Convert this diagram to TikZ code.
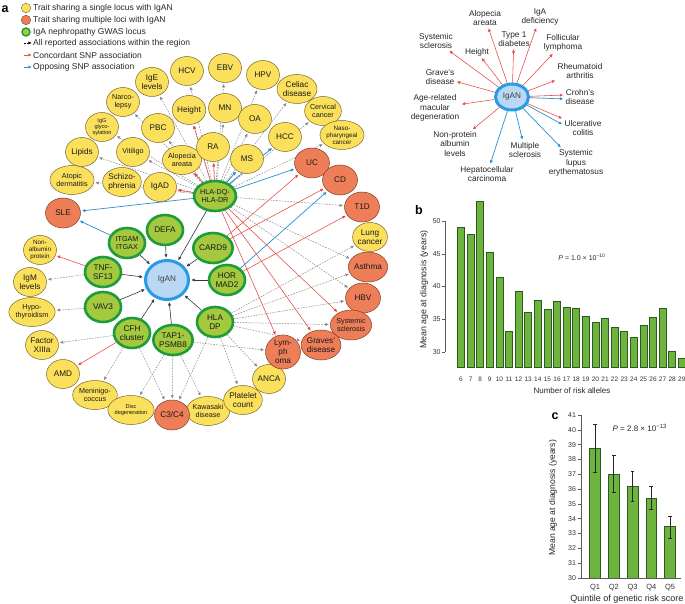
\documentclass[tikz,border=0pt]{standalone}
\usepackage{fontspec}
\setmainfont{Liberation Sans}
\usetikzlibrary{shapes.geometric,arrows.meta}
\pgfdeclarelayer{links}
\pgfsetlayers{links,main}

\definecolor{singlefill}{RGB}{251,224,92}
\definecolor{singleline}{RGB}{120,104,50}
\definecolor{multifill}{RGB}{238,126,88}
\definecolor{multiline}{RGB}{125,62,40}
\definecolor{locusfill}{RGB}{164,200,62}
\definecolor{locusline}{RGB}{30,155,58}
\definecolor{iganfill}{RGB}{186,216,245}
\definecolor{iganline}{RGB}{40,155,230}
\definecolor{concord}{RGB}{232,70,62}
\definecolor{oppose}{RGB}{42,143,209}
\definecolor{reported}{RGB}{135,135,140}
\definecolor{barfill}{RGB}{108,180,62}
\definecolor{barline}{RGB}{45,90,30}
\definecolor{axisgray}{RGB}{90,90,90}

\tikzset{
	trait/.style={ellipse, draw=singleline, line width=0.5pt, minimum width=33pt, minimum height=29pt, inner sep=0pt, align=center, text=black!90, font=\fontsize{8.2}{9.2}\selectfont},
	single/.style={trait, fill=singlefill},
	multiple/.style={trait, fill=multifill, draw=multiline, minimum width=35pt, minimum height=30pt},
	locus/.style={trait, fill=locusfill, draw=locusline, line width=2.6pt, minimum width=36pt, minimum height=30pt},
	hub/.style={ellipse, fill=iganfill, draw=iganline, line width=3pt, minimum width=43pt, minimum height=39pt, inner sep=0pt, text=black!75, font=\fontsize{8.2}{9}\selectfont},
	sm/.style={font=\fontsize{7.2}{8}\selectfont},
	xs/.style={font=\fontsize{6.3}{7}\selectfont},
	xxs/.style={font=\fontsize{5.6}{6.3}\selectfont},
	tip/.style={-{Triangle[length=3.2pt,width=2.8pt]}, shorten >=1.5pt},
	toigan/.style={tip, draw=black!80, line width=0.6pt},
	allassoc/.style={tip, draw=reported, line width=0.5pt, dash pattern=on 1.6pt off 1.2pt},
	concordant/.style={tip, draw=concord, line width=0.55pt},
	opposing/.style={tip, draw=oppose, line width=0.7pt},
	legtext/.style={anchor=west, inner sep=0pt, text=black!85, font=\fontsize{8.5}{9}\selectfont},
	lbl/.style={align=center, inner sep=1pt, text=black!85, font=\fontsize{8.3}{9.6}\selectfont},
	panel/.style={inner sep=0pt, font=\fontsize{12.5}{12.5}\selectfont\bfseries},
	bar/.style={fill=barfill, draw=barline, line width=0.6pt},
	errbar/.style={draw=black!85, line width=0.6pt},
	axisline/.style={draw=axisgray, line width=0.5pt},
	tick/.style={inner sep=1pt, text=black!80, font=\fontsize{6.5}{7}\selectfont},
	axislbl/.style={inner sep=0pt, text=black!85, font=\fontsize{8}{9}\selectfont},
}

\begin{document}
\begin{tikzpicture}[x=1pt,y=-1pt]
	\useasboundingbox (0,0) rectangle (685,604);

	% Panel a, legend.
	\node[panel] (pa) at (5,9) {a};
	\node[single, minimum width=9.5pt, minimum height=9.5pt, line width=0.4pt] (legsingle) at (26,8) {};
	\node[multiple, minimum width=9.5pt, minimum height=9.5pt, line width=0.4pt] (legmulti) at (26,20) {};
	\node[locus, minimum width=8pt, minimum height=8pt, line width=1.4pt] (leglocus) at (26,32) {};
	\node[legtext] (legsingletext) at (33,8) {Trait sharing a single locus with IgAN};
	\node[legtext] (legmultitext) at (33,20) {Trait sharing multiple loci with IgAN};
	\node[legtext] (leglocustext) at (33,32) {IgA nephropathy GWAS locus};
	\coordinate (legallA) at (24,43); \coordinate (legallB) at (31.5,43);
	\coordinate (legconA) at (24,55); \coordinate (legconB) at (31.5,55);
	\coordinate (legoppA) at (24,67); \coordinate (legoppB) at (31.5,67);
	\draw[allassoc, draw=black, shorten >=0pt] (legallA) -- (legallB);
	\draw[concordant, shorten >=0pt] (legconA) -- (legconB);
	\draw[opposing, shorten >=0pt] (legoppA) -- (legoppB);
	\node[legtext] (legalltext) at (33,43) {All reported associations within the region};
	\node[legtext] (legcontext) at (33,55) {Concordant SNP association};
	\node[legtext] (legopptext) at (33,67) {Opposing SNP association};

	% Hub and GWAS loci.
	\node[hub] (igan) at (167,280) {IgAN};
	\node[locus, sm] (hladq) at (215,196) {HLA-DQ-\\HLA-DR};
	\node[locus] (defa) at (165,230) {DEFA};
	\node[locus, sm] (itgam) at (127,243) {ITGAM\\ITGAX};
	\node[locus] (card9) at (213,248) {CARD9};
	\node[locus] (tnf) at (103,272) {TNF-\\SF13};
	\node[locus] (hormad) at (227,280) {HOR\\MAD2};
	\node[locus] (vav3) at (103,307) {VAV3};
	\node[locus] (hladp) at (215,322) {HLA\\DP};
	\node[locus] (cfh) at (132,333) {CFH\\cluster};
	\node[locus] (tap1) at (173,340) {TAP1-\\PSMB8};

	% Traits sharing a single locus.
	\node[single] (hcv) at (187,71) {HCV};
	\node[single] (ebv) at (225,68) {EBV};
	\node[single] (ige) at (152,82) {IgE\\levels};
	\node[single, sm] (narco) at (123,102) {Narco-\\lepsy};
	\node[single] (height) at (189,110) {Height};
	\node[single] (mn) at (225,108) {MN};
	\node[single, xxs] (iggg) at (102,127) {IgG\\glyco-\\sylation};
	\node[single] (pbc) at (158,128) {PBC};
	\node[single] (lipids) at (82,152) {Lipids};
	\node[single, sm] (vitiligo) at (133,152) {Vitiligo};
	\node[single, sm] (alopecia) at (182,160) {Alopecia\\areata};
	\node[single] (ra) at (213,147) {RA};
	\node[single, sm] (atopic) at (72,180) {Atopic\\dermatitis};
	\node[single] (schizo) at (122,182) {Schizo-\\phrenia};
	\node[single] (igad) at (160,187) {IgAD};
	\node[single] (hpv) at (263,75) {HPV};
	\node[single] (celiac) at (297,89) {Celiac\\disease};
	\node[single] (oa) at (255,119) {OA};
	\node[single, sm] (cervical) at (323,111) {Cervical\\cancer};
	\node[single] (hcc) at (285,137) {HCC};
	\node[single, xs] (naso) at (342,135) {Naso-\\pharyngeal\\cancer};
	\node[single] (ms) at (247,159) {MS};
	\node[single] (lung) at (370,237) {Lung\\cancer};
	\node[single, xs] (nonalb) at (40,250) {Non-\\albumin\\protein};
	\node[single] (igm) at (30,282) {IgM\\levels};
	\node[single, sm] (hypo) at (32,312) {Hypo-\\thyroidism};
	\node[single] (factor) at (42,345) {Factor\\XIIIa};
	\node[single] (amd) at (63,374) {AMD};
	\node[single, sm] (menin) at (95,395) {Meninigo-\\coccus};
	\node[single, xxs] (disc) at (131,410) {Disc\\degeneration};
	\node[single, sm] (kawasaki) at (208,411) {Kawasaki\\disease};
	\node[single] (platelet) at (243,400) {Platelet\\count};
	\node[single] (anca) at (269,379) {ANCA};

	% Traits sharing multiple loci.
	\node[multiple] (uc) at (312,163) {UC};
	\node[multiple] (cd) at (340,180) {CD};
	\node[multiple] (t1d) at (362,207) {T1D};
	\node[multiple] (asthma) at (368,267) {Asthma};
	\node[multiple] (hbv) at (363,298) {HBV};
	\node[multiple, sm] (ssc) at (351,325) {Systemic\\sclerosis};
	\node[multiple] (graves) at (321,345) {Graves'\\disease};
	\node[multiple] (lympho) at (283,352) {Lym-\\ph\\oma};
	\node[multiple] (c3c4) at (172,415) {C3/C4};
	\node[multiple] (sle) at (63,213) {SLE};

	\begin{pgfonlayer}{links}
		\foreach \t in {atopic,schizo,lipids,vitiligo,iggg,pbc,narco,ige,hcv,ebv,mn,height,hpv,oa,celiac,cervical,naso,hcc,ms,ra,alopecia,igad,t1d,asthma,hbv}
			\draw[allassoc] (hladq) -- (\t);
		\foreach \t in {lung,asthma,hbv,ssc,graves,anca,platelet,c3c4}
			\draw[allassoc] (hladp) -- (\t);
		\foreach \t in {lympho,disc,c3c4,kawasaki}
			\draw[allassoc] (tap1) -- (\t);
		\foreach \t in {factor,menin,c3c4}
			\draw[allassoc] (cfh) -- (\t);
		\draw[allassoc] (tnf) -- (igm);
		\draw[allassoc] (vav3) -- (hypo);
		\foreach \t in {igad,alopecia,ra,height,lympho,graves,ssc}
			\draw[concordant] (hladq) -- (\t);
		\foreach \t in {sle,ms,hcc,uc}
			\draw[opposing] (hladq) -- (\t);
		\draw[concordant] (card9) -- (uc);
		\draw[concordant] (card9) -- (cd);
		\draw[concordant] (hormad) -- (t1d);
		\draw[opposing] (hormad) -- (cd);
		\draw[concordant] (tnf) -- (nonalb);
		\draw[concordant] (cfh) -- (amd);
		\draw[opposing] (itgam) -- (sle);
		\foreach \l in {hladq,defa,itgam,card9,tnf,hormad,vav3,hladp,cfh,tap1}
			\draw[toigan] (\l) -- (igan); % Locus to IgAN.
	\end{pgfonlayer}

	% Inset, summary of shared traits.
	\node[hub, minimum width=33pt, minimum height=26pt] (iganB) at (512,97) {IgAN};
	\node[lbl] (alopeciaB) at (485,18) {Alopecia\\areata};
	\node[lbl] (igadB) at (540,17) {IgA\\deficiency};
	\node[lbl] (t1dB) at (514,39) {Type 1\\diabetes};
	\node[lbl] (sscB) at (436,41) {Systemic\\sclerosis};
	\node[lbl] (heightB) at (477,52) {Height};
	\node[lbl] (flB) at (563,43) {Follicular\\lymphoma};
	\node[lbl] (raB) at (580,71) {Rheumatoid\\arthritis};
	\node[lbl] (gravesB) at (440,77) {Grave's\\disease};
	\node[lbl] (crohnB) at (580,97) {Crohn's\\disease};
	\node[lbl] (amdB) at (435,108) {Age-related\\macular\\degeneration};
	\node[lbl] (ucolB) at (583,128) {Ulcerative\\colitis};
	\node[lbl] (nonalbB) at (455,144) {Non-protein\\albumin\\levels};
	\node[lbl] (msB) at (525,150) {Multiple\\sclerosis};
	\node[lbl] (sleB) at (576,163) {Systemic\\lupus\\erythematosus};
	\node[lbl] (hccB) at (487,174) {Hepatocellular\\carcinoma};
	\begin{pgfonlayer}{links}
		\foreach \t in {alopeciaB,igadB,t1dB,sscB,heightB,flB,raB,gravesB,amdB,nonalbB}
			\draw[concordant] (iganB) -- (\t);
		\foreach \t in {msB,sleB,hccB}
			\draw[opposing] (iganB) -- (\t);
		\draw[concordant] (iganB) -- ([yshift=2pt]crohnB.west);
		\draw[opposing] (iganB) -- ([yshift=-2pt]crohnB.west);
		\draw[concordant] (iganB) -- (ucolB.north west);
		\draw[opposing] (iganB) -- ([yshift=3pt]ucolB.west);
	\end{pgfonlayer}

	% Panel b, age at diagnosis by number of risk alleles.
	\node[panel] (pb) at (419,210) {b};
	\begin{scope}[shift={(403.4,548.5)}, x=9.6pt, y=6.55pt]
		\foreach \n/\v in {6/49.0,7/48.0,8/53.0,9/45.2,10/41.45,11/33.2,12/39.2,13/36.1,14/37.9,15/36.5,16/37.8,17/36.8,18/36.6,19/35.5,20/34.5,21/35.1,22/33.8,23/33.2,24/32.2,25/34.1,26/35.3,27/36.7,28/30.05,29/29.1}
			\draw[bar] (\n-0.36,27.6) rectangle (\n+0.36,\v);
		\foreach \n in {6,...,29}
			\node[tick] (bx\n) at (\n,25.9) {\n};
		\draw[axisline] (4.33,30) -- (4.33,50);
		\foreach \v in {30,35,...,50} {
			\draw[axisline] (4.33,\v) -- (4.0,\v);
			\node[tick, anchor=east, font=\fontsize{7}{8}\selectfont] (by\v) at (4.0,\v) {\v};
		}
		\node[axislbl] (bxlabel) at (17.56,24.05) {Number of risk alleles};
		\node[axislbl, rotate=90, font=\fontsize{8.8}{9}\selectfont] (bylabel) at (2.15,39.5) {Mean age at diagnosis (years)};
		\node[axislbl, font=\fontsize{7}{8}\selectfont] (bp) at (18.6,44.5) {\textit{P} = 1.0 × 10\textsuperscript{−10}};
	\end{scope}

	% Panel c, age at diagnosis by quintile of genetic risk score.
	\node[panel] (pc) at (555,416) {c};
	\begin{scope}[shift={(576.25,1021.8)}, x=18.75pt, y=14.8pt]
		\foreach \q/\v/\lo/\hi in {1/38.75/37.1/40.4,2/37.0/35.8/38.25,3/36.2/35.2/37.2,4/35.4/34.6/36.2,5/33.45/32.7/34.15} {
			\draw[bar] (\q-0.29,30) rectangle (\q+0.29,\v);
			\draw[errbar] (\q,\lo) -- (\q,\hi) (\q-0.1,\lo) -- (\q+0.1,\lo) (\q-0.1,\hi) -- (\q+0.1,\hi);
			\node[tick, font=\fontsize{7.5}{8}\selectfont] (cq\q) at (\q,29.31) {Q\q};
		}
		\draw[axisline] (0.253,41) -- (0.253,30) -- (5.6,30);
		\foreach \v in {30,...,41} {
			\draw[axisline] (0.253,\v) -- (0.09,\v);
			\node[tick, anchor=east, font=\fontsize{7}{8}\selectfont] (cy\v) at (0.05,\v) {\v};
		}
		\node[axislbl, font=\fontsize{9}{10}\selectfont] (cxlabel) at (2.70,28.57) {Quintile of genetic risk score};
		\node[axislbl, rotate=90, font=\fontsize{8.6}{9}\selectfont] (cylabel) at (-1.25,35.4) {Mean age at diagnosis (years)};
		\node[axislbl] (cp) at (3.39,40.1) {\textit{P} = 2.8 × 10\textsuperscript{−13}};
	\end{scope}
\end{tikzpicture}
\end{document}
